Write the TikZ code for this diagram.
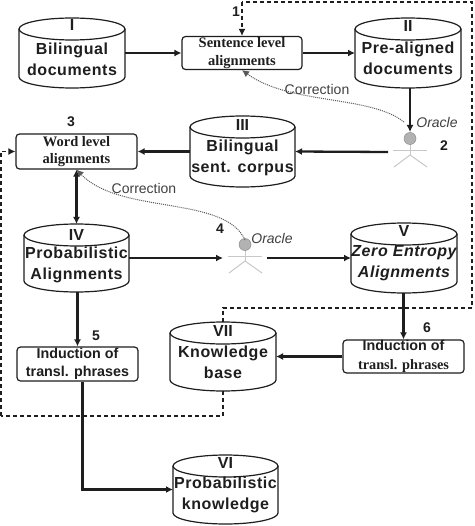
\documentclass[tikz,border=0pt]{standalone}
\usepackage{fontspec}
\setmainfont{Liberation Sans}
\newfontfamily\serifbold{Liberation Serif}[BoldFont={Liberation Serif Bold}]
\usetikzlibrary{arrows.meta,calc}
\definecolor{ink}{HTML}{1E1E1E}
\definecolor{soft}{HTML}{C8C8C8}
\tikzset{
  x=1pt,y=-1pt,
  flow/.style={draw=ink,line width=2.3pt,-{Latex[length=7pt,width=7pt]}},
  loopline/.style={draw=ink,line width=1.3pt,dash pattern=on 4pt off 3pt},
  loophead/.style={-{Latex[length=7pt,width=7pt]}},
  fixline/.style={draw=black!65,line width=1pt,densely dotted,-{Latex[length=7pt,width=7pt]}},
  stepbox/.style={draw=ink,line width=1.2pt,rounded corners=3.5pt,fill=white,inner sep=0pt,text=ink,align=center},
  cyltext/.style={font=\fontsize{16}{21}\selectfont\bfseries\addfontfeatures{LetterSpace=3.5},text=ink,align=center,inner sep=0pt},
  romantext/.style={font=\fontsize{16}{16}\selectfont\bfseries,text=ink,inner sep=0pt},
  numtext/.style={font=\fontsize{14}{14}\selectfont\bfseries,text=ink,inner sep=0pt},
  notetext/.style={font=\fontsize{14}{14}\selectfont,text=black!75,inner sep=0pt},
  oracletext/.style={font=\fontsize{14}{14}\selectfont\itshape,text=black!75,inner sep=0pt},
  bare/.style={inner sep=0pt,outer sep=0pt},
}
% name, x0, x1, ytop, ybottom, roman, roman y, text y, text
\newcommand{\drum}[9]{%
  \draw[draw=ink,line width=1.2pt,fill=white]
    (#2,{#4+11}) -- (#2,{#5-11}) arc[start angle=180,end angle=0,x radius={(#3-#2)/2},y radius=11] -- (#3,{#4+11});
  \draw[draw=ink,line width=1.2pt,fill=white] ({(#2+#3)/2},{#4+11}) ellipse[x radius={(#3-#2)/2},y radius=11];
  \node[bare,minimum width={(#3-#2)*1pt},minimum height={(#5-#4)*1pt}] (#1) at ({(#2+#3)/2},{(#4+#5)/2}) {};
  \node[romantext] (#1-num) at ({(#2+#3)/2},#7) {#6};
  \node[cyltext] (#1-text) at ({(#2+#3)/2},#8) {#9};
}
% name, centre x, centre y
\newcommand{\oracle}[3]{%
  \node[bare,minimum width=44pt,minimum height=40pt] (#1) at (#2,#3) {};
  \draw[soft,line width=1pt] (#2-17,#3-1.5) -- (#2+17,#3-1.5);
  \draw[soft,line width=1pt] (#2,#3-8) -- (#2,#3+3);
  \draw[soft,line width=1pt] (#2-16,#3+15) -- (#2,#3+3) -- (#2+17,#3+15);
  \draw[black!45,fill=black!30,line width=0.5pt] (#2,#3-13.5) circle[radius=6];
}
\begin{document}
\begin{tikzpicture}
\useasboundingbox (0,0) rectangle (474,526);
\fill[white] (0,0) rectangle (474,526);

\coordinate (topstart) at (242,2);
\coordinate (topright) at (472,2);
\coordinate (midright) at (472,308);
\coordinate (lowleft) at (1,416);
\coordinate (VIItop) at (223,322);
\coordinate (VIIbot) at (223,391);
\draw[loopline] (VIItop) |- (midright) -- (topright) -- (topstart);
\draw[loopline] (VIIbot) |- (lowleft);

\drum{I}{19}{125}{18}{88}{I}{25}{59}{Bilingual\\documents}
\drum{II}{355}{461}{18}{88}{II}{26}{58}{Pre-aligned\\documents}
\drum{III}{190}{295}{116}{187}{III}{125}{158}{Bilingual\\sent. corpus}
\drum{IV}{24}{129}{224}{292}{IV}{235}{265}{Probabilistic\\Alignments}
\drum{V}{351}{457}{223}{293}{V}{231}{263}{\itshape Zero Entropy\\\itshape Alignments}
\drum{VII}{170}{276}{322}{391}{VII}{331}{362}{Knowledge\\base}
\drum{VI}{173}{278}{455}{524}{VI}{463}{495}{Probabilistic\\knowledge}

\node[stepbox,minimum width=120pt,minimum height=33pt,font=\fontsize{14.5}{18}\selectfont\serifbold\bfseries] (sent) at (242,53) {Sentence level\\alignments};
\node[stepbox,minimum width=121pt,minimum height=35pt,font=\fontsize{14.5}{17.5}\selectfont\serifbold\bfseries] (word) at (76.5,151.5) {Word level\\alignments};
\node[stepbox,minimum width=121pt,minimum height=34pt,font=\fontsize{14.3}{18}\selectfont\bfseries] (ind5) at (77.5,364) {Induction of\\transl. phrases};
\node[stepbox,minimum width=121pt,minimum height=33pt,font=\fontsize{14.3}{18.5}\selectfont\bfseries] (ind6) at (403.5,356.5) {Induction of\\{\serifbold\bfseries transl. phrases}};

\oracle{actA}{410}{152}
\oracle{actB}{245}{258}

\draw[flow] (I.east) -- (sent.west);
\draw[flow] (sent.east) -- (II.west);
\draw[flow] (II.south -| actA.north) -- (actA.north);
\draw[flow] (actA.west) -- (III.east);
\draw[flow] (III.west) -- (word.east);
\draw[flow,{Latex[length=7pt,width=7pt]}-{Latex[length=7pt,width=7pt]}] (word.south) -- (IV.north -| word.south);
\draw[flow] (IV.east) -- (actB.west);
\draw[flow] (actB.east) -- (V.west);
\draw[flow] (V.south -| ind6.north) -- (ind6.north);
\draw[flow] (ind6.west) -- (VII.east);
\draw[flow] (IV.south -| ind5.north) -- (ind5.north);
\draw[flow] ($(ind5.south)+(5,0)$) |- (VI.west);

\draw[loopline,loophead] (topstart) -- (sent.north);
\draw[loopline,loophead] (lowleft) |- (word.west);
\draw[loopline] (VII.north) -- (VIItop);
\draw[loopline] (VII.south) -- (VIIbot);

\coordinate (fixA) at (404,122);
\coordinate (fixB) at (245,240);
\draw[fixline] (fixA) .. controls (370,95) and (290,105) .. (sent.south);
\draw[fixline] (fixB) .. controls (225,195) and (120,215) .. (word.south);

\node[notetext] (corrA) at (317,89) {Correction};
\node[notetext] (corrB) at (144,188) {Correction};
\node[oracletext] (orA) at (437,122) {Oracle};
\node[oracletext] (orB) at (272,238) {Oracle};

\node[numtext] (n1) at (236,12) {1};
\node[numtext] (n2) at (444,146) {2};
\node[numtext] (n3) at (71,122) {3};
\node[numtext] (n4) at (220,229) {4};
\node[numtext] (n5) at (96,336) {5};
\node[numtext] (n6) at (427,328) {6};
\end{tikzpicture}
\end{document}
